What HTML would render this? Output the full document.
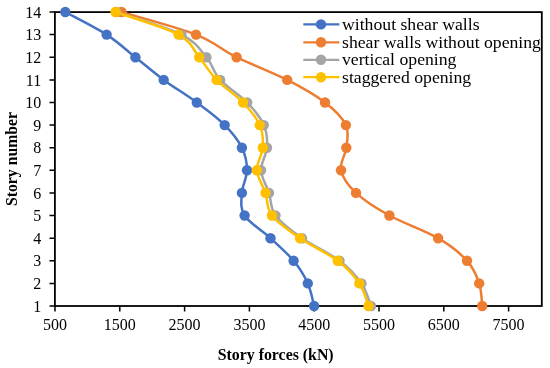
<!DOCTYPE html>
<html><head><meta charset="utf-8"><title>Story forces</title>
<style>
html,body{margin:0;padding:0;background:#fff}
svg{display:block;font-family:"Liberation Serif","Times New Roman",serif;fill:#000}
</style></head><body>
<svg width="550" height="368" viewBox="0 0 550 368">
<rect width="550" height="368" fill="#fff"/>
<rect x="54.9" y="12.1" width="486.9" height="293.9" fill="none" stroke="#000" stroke-width="1.8"/>
<path d="M49.5 306.0H55M49.5 283.4H55M49.5 260.8H55M49.5 238.2H55M49.5 215.5H55M49.5 192.9H55M49.5 170.3H55M49.5 147.7H55M49.5 125.1H55M49.5 102.5H55M49.5 79.9H55M49.5 57.2H55M49.5 34.6H55M49.5 12.0H55M55.0 306V311.5M119.8 306V311.5M184.6 306V311.5M249.4 306V311.5M314.2 306V311.5M379.0 306V311.5M443.8 306V311.5M508.6 306V311.5" stroke="#000" stroke-width="1.5" fill="none"/>
<g font-size="16"><text x="41.2" y="311.6" text-anchor="end">1</text><text x="41.2" y="289.0" text-anchor="end">2</text><text x="41.2" y="266.4" text-anchor="end">3</text><text x="41.2" y="243.8" text-anchor="end">4</text><text x="41.2" y="221.1" text-anchor="end">5</text><text x="41.2" y="198.5" text-anchor="end">6</text><text x="41.2" y="175.9" text-anchor="end">7</text><text x="41.2" y="153.3" text-anchor="end">8</text><text x="41.2" y="130.7" text-anchor="end">9</text><text x="41.2" y="108.1" text-anchor="end">10</text><text x="41.2" y="85.5" text-anchor="end">11</text><text x="41.2" y="62.8" text-anchor="end">12</text><text x="41.2" y="40.2" text-anchor="end">13</text><text x="41.2" y="17.6" text-anchor="end">14</text><text x="55.0" y="330.3" text-anchor="middle">500</text><text x="119.8" y="330.3" text-anchor="middle">1500</text><text x="184.6" y="330.3" text-anchor="middle">2500</text><text x="249.4" y="330.3" text-anchor="middle">3500</text><text x="314.2" y="330.3" text-anchor="middle">4500</text><text x="379.0" y="330.3" text-anchor="middle">5500</text><text x="443.8" y="330.3" text-anchor="middle">6500</text><text x="508.6" y="330.3" text-anchor="middle">7500</text></g>
<text x="275.7" y="359.7" text-anchor="middle" font-size="15.85" font-weight="bold">Story forces (kN)</text>
<text transform="translate(16.6 159.0) rotate(-90)" text-anchor="middle" font-size="15.75" font-weight="bold">Story number</text>
<path d="M65.3 12.0 C72.2 15.8 94.9 27.1 106.6 34.6 C118.3 42.2 125.9 49.7 135.4 57.2 C144.9 64.8 153.5 72.3 163.7 79.9 C173.9 87.4 186.6 94.9 196.8 102.5 C207.0 110.0 217.2 117.5 224.7 125.1 C232.2 132.6 238.2 140.2 241.9 147.7 C245.6 155.2 247.0 162.8 247.0 170.3 C247.0 177.8 242.3 185.4 241.9 192.9 C241.5 200.5 239.8 208.0 244.6 215.5 C249.4 223.1 262.3 230.6 270.5 238.2 C278.7 245.7 287.4 253.2 293.6 260.8 C299.8 268.3 304.4 275.8 307.8 283.4 C311.2 290.9 313.1 302.2 314.1 306.0" fill="none" stroke="#4472C4" stroke-width="2.5" stroke-linecap="round" stroke-linejoin="round"/>
<g fill="#4472C4"><circle cx="65.3" cy="12.0" r="5.2"/><circle cx="106.6" cy="34.6" r="5.2"/><circle cx="135.4" cy="57.2" r="5.2"/><circle cx="163.7" cy="79.9" r="5.2"/><circle cx="196.8" cy="102.5" r="5.2"/><circle cx="224.7" cy="125.1" r="5.2"/><circle cx="241.9" cy="147.7" r="5.2"/><circle cx="247.0" cy="170.3" r="5.2"/><circle cx="241.9" cy="192.9" r="5.2"/><circle cx="244.6" cy="215.5" r="5.2"/><circle cx="270.5" cy="238.2" r="5.2"/><circle cx="293.6" cy="260.8" r="5.2"/><circle cx="307.8" cy="283.4" r="5.2"/><circle cx="314.1" cy="306.0" r="5.2"/></g>
<path d="M121.5 12.0 C133.9 15.8 176.8 27.1 196.0 34.6 C215.2 42.2 221.4 49.7 236.6 57.2 C251.8 64.8 272.5 72.3 287.2 79.9 C301.9 87.4 315.2 94.9 325.0 102.5 C334.8 110.0 342.3 117.5 345.9 125.1 C349.4 132.6 347.1 140.2 346.3 147.7 C345.5 155.2 339.4 162.8 341.0 170.3 C342.6 177.8 347.9 185.4 356.0 192.9 C364.1 200.5 375.7 208.0 389.4 215.5 C403.1 223.1 425.2 230.6 438.1 238.2 C451.0 245.7 460.1 253.2 467.0 260.8 C473.9 268.3 476.7 275.8 479.2 283.4 C481.7 290.9 481.7 302.2 482.2 306.0" fill="none" stroke="#ED7D31" stroke-width="2.5" stroke-linecap="round" stroke-linejoin="round"/>
<g fill="#ED7D31"><circle cx="121.5" cy="12.0" r="5.2"/><circle cx="196.0" cy="34.6" r="5.2"/><circle cx="236.6" cy="57.2" r="5.2"/><circle cx="287.2" cy="79.9" r="5.2"/><circle cx="325.0" cy="102.5" r="5.2"/><circle cx="345.9" cy="125.1" r="5.2"/><circle cx="346.3" cy="147.7" r="5.2"/><circle cx="341.0" cy="170.3" r="5.2"/><circle cx="356.0" cy="192.9" r="5.2"/><circle cx="389.4" cy="215.5" r="5.2"/><circle cx="438.1" cy="238.2" r="5.2"/><circle cx="467.0" cy="260.8" r="5.2"/><circle cx="479.2" cy="283.4" r="5.2"/><circle cx="482.2" cy="306.0" r="5.2"/></g>
<path d="M116.3 12.0 C127.2 15.8 166.5 27.1 181.5 34.6 C196.5 42.2 200.0 49.7 206.4 57.2 C212.8 64.8 213.4 72.3 220.2 79.9 C227.0 87.4 239.9 94.9 247.2 102.5 C254.5 110.0 260.5 117.5 263.8 125.1 C267.1 132.6 267.5 140.2 267.0 147.7 C266.5 155.2 260.7 162.8 261.0 170.3 C261.3 177.8 266.6 185.4 269.0 192.9 C271.4 200.5 270.0 208.0 275.5 215.5 C281.0 223.1 291.3 230.6 302.0 238.2 C312.7 245.7 329.6 253.2 339.5 260.8 C349.4 268.3 356.2 275.8 361.5 283.4 C366.8 290.9 369.4 302.2 371.0 306.0" fill="none" stroke="#A5A5A5" stroke-width="2.5" stroke-linecap="round" stroke-linejoin="round"/>
<g fill="#A5A5A5"><circle cx="116.3" cy="12.0" r="5.2"/><circle cx="181.5" cy="34.6" r="5.2"/><circle cx="206.4" cy="57.2" r="5.2"/><circle cx="220.2" cy="79.9" r="5.2"/><circle cx="247.2" cy="102.5" r="5.2"/><circle cx="263.8" cy="125.1" r="5.2"/><circle cx="267.0" cy="147.7" r="5.2"/><circle cx="261.0" cy="170.3" r="5.2"/><circle cx="269.0" cy="192.9" r="5.2"/><circle cx="275.5" cy="215.5" r="5.2"/><circle cx="302.0" cy="238.2" r="5.2"/><circle cx="339.5" cy="260.8" r="5.2"/><circle cx="361.5" cy="283.4" r="5.2"/><circle cx="371.0" cy="306.0" r="5.2"/></g>
<path d="M115.5 12.0 C126.0 15.8 164.6 27.1 178.5 34.6 C192.4 42.2 192.8 49.7 199.2 57.2 C205.5 64.8 209.3 72.3 216.6 79.9 C223.9 87.4 235.8 94.9 243.0 102.5 C250.2 110.0 256.4 117.5 259.7 125.1 C263.0 132.6 263.3 140.2 262.8 147.7 C262.3 155.2 256.4 162.8 256.8 170.3 C257.2 177.8 263.0 185.4 265.5 192.9 C268.0 200.5 266.1 208.0 271.9 215.5 C277.6 223.1 289.0 230.6 300.0 238.2 C311.0 245.7 327.8 253.2 337.7 260.8 C347.6 268.3 354.2 275.8 359.3 283.4 C364.4 290.9 367.0 302.2 368.5 306.0" fill="none" stroke="#FFC000" stroke-width="2.5" stroke-linecap="round" stroke-linejoin="round"/>
<g fill="#FFC000"><circle cx="115.5" cy="12.0" r="5.2"/><circle cx="178.5" cy="34.6" r="5.2"/><circle cx="199.2" cy="57.2" r="5.2"/><circle cx="216.6" cy="79.9" r="5.2"/><circle cx="243.0" cy="102.5" r="5.2"/><circle cx="259.7" cy="125.1" r="5.2"/><circle cx="262.8" cy="147.7" r="5.2"/><circle cx="256.8" cy="170.3" r="5.2"/><circle cx="265.5" cy="192.9" r="5.2"/><circle cx="271.9" cy="215.5" r="5.2"/><circle cx="300.0" cy="238.2" r="5.2"/><circle cx="337.7" cy="260.8" r="5.2"/><circle cx="359.3" cy="283.4" r="5.2"/><circle cx="368.5" cy="306.0" r="5.2"/></g>
<g><path d="M303.3 24.4H339.4" stroke="#4472C4" stroke-width="2.3"/><circle cx="321" cy="24.4" r="5.2" fill="#4472C4"/><text x="342" y="30.0" font-size="17.7">without shear walls</text><path d="M303.3 42.3H339.4" stroke="#ED7D31" stroke-width="2.3"/><circle cx="321" cy="42.3" r="5.2" fill="#ED7D31"/><text x="342" y="48.0" font-size="17.7">shear walls without opening</text><path d="M303.3 59.8H339.4" stroke="#A5A5A5" stroke-width="2.3"/><circle cx="321" cy="59.8" r="5.2" fill="#A5A5A5"/><text x="342" y="65.4" font-size="17.7">vertical opening</text><path d="M303.3 77.2H339.4" stroke="#FFC000" stroke-width="2.3"/><circle cx="321" cy="77.2" r="5.2" fill="#FFC000"/><text x="342" y="83.1" font-size="17.7">staggered opening</text></g>
</svg>
</body></html>
